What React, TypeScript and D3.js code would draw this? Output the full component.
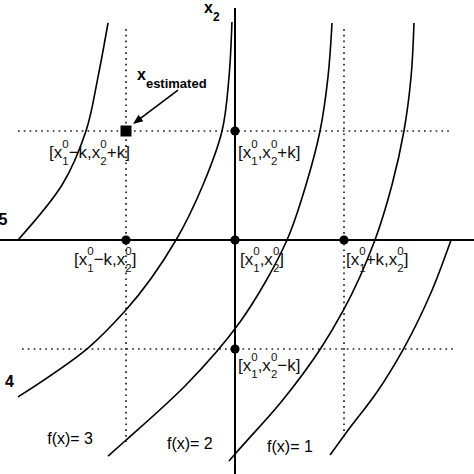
import React from "react";
import * as d3 from "d3";

// Level curves f(x) = c, in units of k, origin at (x1^0, x2^0)
const levelValues = [5, 4, 3, 2, 1];
const curve5: [number, number][] = [[-1.165, 1.991], [-1.257, 1.495], [-1.367, 1.0], [-1.587, 0.505], [-1.991, 0]];
const curve4: [number, number][] = [[-0.028, 2.0], [-0.055, 1.495], [-0.119, 1.0], [-0.294, 0.505], [-0.541, 0], [-1.009, -0.651], [-1.349, -0.991], [-1.991, -1.44]];
const curve3: [number, number][] = [[0.89, 1.991], [0.853, 1.495], [0.78, 1.0], [0.651, 0.505], [0.477, 0], [0.284, -0.376], [0.046, -0.752], [-0.45, -1.33], [-1.009, -1.844], [-1.165, -1.982]];
const curve2: [number, number][] = [[1.642, 1.991], [1.615, 1.495], [1.55, 1.0], [1.44, 0.505], [1.284, 0], [0.991, -0.651], [0.789, -0.991], [0.431, -1.477], [0.009, -1.954], [-0.055, -2.028]];
const curve1: [number, number][] = [[1.982, 0], [1.789, -0.505], [1.55, -0.991], [1.303, -1.394], [1.018, -1.771], [0.872, -1.972]];
const curves = [curve5, curve4, curve3, curve2, curve1];

// Probe points around x^0 (units of k)
const probePoints: [number, number][] = [[-1, 1], [0, 1], [-1, 0], [0, 0], [1, 0], [0, -1]];
const probeX1Suffix = ["−k", "", "−k", "", "+k", ""];
const probeX2Suffix = ["+k", "+k", "", "", "", "−k"];
const estimatedIndex = 0;

// Dotted guide lines (units of k)
const vGuides: [number, number, number][] = [[-1, 1.936, -1.853], [1, 1.936, -1.807]];
const hGuides: [number, number, number][] = [[1, -1.991, 1.991], [-1, -1.954, 2.028]];

// Arrow to the estimate
const arrowFrom: [number, number] = [-0.523, 1.376];
const arrowTo: [number, number] = [-0.936, 1.064];

// Level labels
const levelLabelText = ["f(x)= 3", "f(x)= 2", "f(x)= 1"];
const levelLabelPos: [number, number][] = [[-1.723, -1.872], [-0.624, -1.917], [0.294, -1.945]];
const cutLabels = ["5", "4"];
const cutLabelPos: [number, number][] = [[-2.17, 0.138], [-2.11, -1.348]];

// layout offsets (px) for probe labels
const labelOffsets: [number, number][] = [[-77, 27], [3, 27], [-52, 25], [5, 25], [2, 25], [3, 22]];

const W = 474, H = 474;
const FONT = "'Liberation Sans', Arial, Helvetica, sans-serif";

export default function App() {
  const x = d3.scaleLinear().domain([-1, 1]).range([126, 344]);
  const y = d3.scaleLinear().domain([-1, 1]).range([349, 131]);
  const line = d3
    .line<[number, number]>()
    .x((d) => x(d[0]))
    .y((d) => y(d[1]))
    .curve(d3.curveMonotoneY);

  const F = 17;
  const S = 11.5;
  const dig = 0.556 * S;

  const ax = x(arrowFrom[0]), ay = y(arrowFrom[1]);
  const bx = x(arrowTo[0]), by = y(arrowTo[1]);
  const ang = Math.atan2(by - ay, bx - ax);
  const hl = 10, hw = 4;
  const head = [
    [bx, by],
    [bx - hl * Math.cos(ang) + hw * Math.sin(ang), by - hl * Math.sin(ang) - hw * Math.cos(ang)],
    [bx - hl * Math.cos(ang) - hw * Math.sin(ang), by - hl * Math.sin(ang) + hw * Math.cos(ang)],
  ]
    .map((p) => p.join(","))
    .join(" ");

  return (
    <svg
      width={W}
      height={H}
      style={{ position: "absolute", left: 0, top: 0, background: "#fff" }}
      fontFamily={FONT}
    >
      <rect width={W} height={H} fill="#fff" />
      {/* dotted guides */}
      {vGuides.map((g, i) => (
        <line key={"v" + i} x1={x(g[0])} x2={x(g[0])} y1={y(g[1])} y2={y(g[2])} stroke="#222" strokeWidth={1.7} strokeDasharray="1.7 4.1" />
      ))}
      {hGuides.map((g, i) => (
        <line key={"h" + i} y1={y(g[0])} y2={y(g[0])} x1={x(g[1])} x2={x(g[2])} stroke="#222" strokeWidth={1.7} strokeDasharray="1.7 4.1" />
      ))}
      {/* axes */}
      <line x1={0} x2={W} y1={y(0)} y2={y(0)} stroke="#000" strokeWidth={2} />
      <line x1={x(0)} x2={x(0)} y1={8} y2={H} stroke="#000" strokeWidth={2} />
      {/* level curves */}
      {curves.map((c, i) => (
        <path key={"c" + levelValues[i]} d={line(c) || ""} fill="none" stroke="#000" strokeWidth={1.6} />
      ))}
      {/* arrow */}
      <line x1={ax} y1={ay} x2={bx - 6 * Math.cos(ang)} y2={by - 6 * Math.sin(ang)} stroke="#000" strokeWidth={1.6} />
      <polygon points={head} fill="#000" />
      {/* probe points */}
      {probePoints.map((p, i) =>
        i === estimatedIndex ? (
          <rect key={"p" + i} x={x(p[0]) - 5.5} y={y(p[1]) - 5.5} width={11} height={11} fill="#000" />
        ) : (
          <circle key={"p" + i} cx={x(p[0])} cy={y(p[1])} r={4.6} fill="#000" />
        )
      )}
      {/* probe labels */}
      {probePoints.map((p, i) => (
        <text key={"l" + i} x={x(p[0]) + labelOffsets[i][0]} y={y(p[1]) + labelOffsets[i][1]} fontSize={F} fill="#111">
          <tspan>[x</tspan>
          <tspan fontSize={S} dy={-10}>0</tspan>
          <tspan fontSize={S} dx={-dig} dy={17}>1</tspan>
          <tspan dy={-7}>{probeX1Suffix[i] + ",x"}</tspan>
          <tspan fontSize={S} dy={-10}>0</tspan>
          <tspan fontSize={S} dx={-dig} dy={17}>2</tspan>
          <tspan dy={-7}>{probeX2Suffix[i] + "]"}</tspan>
        </text>
      ))}
      {/* x_estimated */}
      <text x={137} y={80} fontSize={16} fontWeight={700} fill="#000">
        <tspan>x</tspan>
        <tspan fontSize={13} dy={8}>estimated</tspan>
      </text>
      {/* axis label x2 */}
      <text x={204} y={13} fontSize={16} fontWeight={700} fill="#000">
        <tspan>x</tspan>
        <tspan fontSize={12} dy={8}>2</tspan>
      </text>
      {/* level labels */}
      {levelLabelText.map((t, i) => (
        <text key={"f" + i} x={x(levelLabelPos[i][0])} y={y(levelLabelPos[i][1])} fontSize={16} fill="#000">
          {t}
        </text>
      ))}
      {cutLabels.map((t, i) => (
        <text key={"k" + i} x={x(cutLabelPos[i][0])} y={y(cutLabelPos[i][1])} fontSize={16} fontWeight={700} fill="#000">
          {t}
        </text>
      ))}
    </svg>
  );
}
